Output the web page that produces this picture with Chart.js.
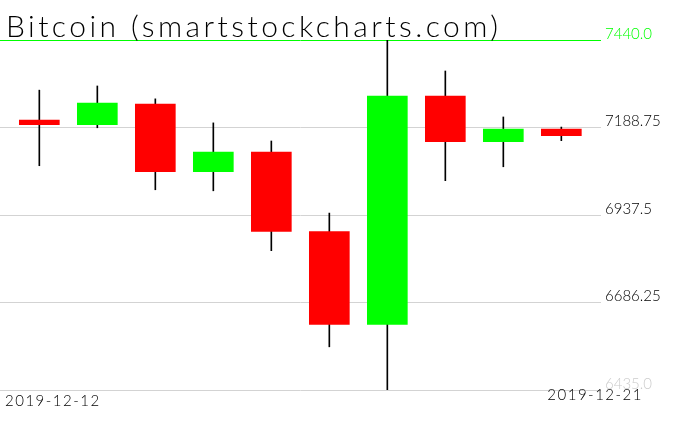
<!DOCTYPE html>
<html>
<head>
<meta charset="utf-8">
<script src="https://cdn.jsdelivr.net/npm/chart.js@4.4.0/dist/chart.umd.min.js"></script>
<style>
  html, body { margin: 0; padding: 0; background: #fff; }
  #wrap { width: 676px; height: 431px; position: relative; }
</style>
</head>
<body>
<div id="wrap"><canvas id="chart"></canvas></div>
<script>
const title = "Bitcoin (smartstockcharts.com)";
const dates = ["2019-12-12", "2019-12-13", "2019-12-14", "2019-12-15", "2019-12-16",
  "2019-12-17", "2019-12-18", "2019-12-19", "2019-12-20", "2019-12-21"];
const opens = [7210, 7197, 7256, 7062, 7118, 6890, 6623, 7279, 7148, 7184];
const highs = [7296, 7308, 7271, 7202, 7150, 6943, 7440, 7351, 7219, 7190];
const lows = [7079, 7188, 7010, 7007, 6835, 6559, 6435, 7036, 7076, 7151];
const closes = [7197, 7259, 7062, 7118, 6890, 6623, 7279, 7148, 7184, 7165];
const yTicks = [6435, 6686.25, 6937.5, 7188.75, 7440];
const yTickLabels = ["6435.0", "6686.25", "6937.5", "7188.75", "7440.0"];

const UP = "#00ff00";
const DOWN = "#ff0000";

const bodies = dates.map((d, i) => ({ x: i, y: [opens[i], closes[i]] }));
const wicks = dates.map((d, i) => ({ x: i, y: [lows[i], highs[i]] }));

// title and the two corner dates
const textPlugin = {
  id: "texts",
  afterDraw(chart) {
    const ctx = chart.ctx;
    ctx.save();
    ctx.fillStyle = "#000";
    ctx.textBaseline = "alphabetic";
    ctx.font = "300 30px Lato";
    ctx.letterSpacing = "0px";
    const w0 = ctx.measureText(title).width;
    ctx.letterSpacing = ((492 - w0) / (title.length - 1)) + "px";
    ctx.textAlign = "left";
    ctx.fillText(title, 6, 37);

    ctx.font = "300 15px Lato";
    ctx.letterSpacing = "1.5px";
    ctx.textAlign = "left";
    ctx.fillText(dates[0], 5, 406);
    ctx.textAlign = "right";
    ctx.fillText(dates[dates.length - 1], 643, 400);
    ctx.restore();
  }
};

new Chart(document.getElementById("chart"), {
  type: "bar",
  data: {
    datasets: [
      {
        label: "body",
        data: bodies,
        backgroundColor: bodies.map(b => (b.y[1] >= b.y[0] ? UP : DOWN)),
        borderWidth: 0,
        barThickness: 40,
        grouped: false,
        order: 0
      },
      {
        label: "wick",
        data: wicks,
        backgroundColor: "#000",
        borderWidth: 0,
        barThickness: 1,
        grouped: false,
        order: 1
      }
    ]
  },
  options: {
    responsive: true,
    maintainAspectRatio: false,
    animation: false,
    layout: { padding: { top: 40, bottom: 41, left: 0, right: 0 } },
    plugins: {
      legend: { display: false },
      tooltip: { enabled: false },
      title: { display: false }
    },
    scales: {
      x: {
        type: "linear",
        display: false,
        offset: false,
        min: -0.678,
        max: 9.684
      },
      y: {
        position: "right",
        min: 6435,
        max: 7440,
        z: 1,
        afterBuildTicks: axis => {
          axis.ticks = yTicks.map(v => ({ value: v }));
        },
        afterFit: axis => {
          axis.width = 75;
        },
        border: { display: false },
        grid: {
          drawTicks: false,
          lineWidth: 1,
          color: c => (c.tick && c.tick.value === 7440 ? UP : "#d3d3d3")
        },
        ticks: {
          padding: 4,
          labelOffset: -6,
          font: { family: "Lato", size: 15, weight: "300" },
          color: c => (c.tick.value === 7440 ? UP : c.tick.value === 6435 ? "#cccccc" : "#000"),
          callback: (v, i) => yTickLabels[i]
        }
      }
    }
  },
  plugins: [textPlugin]
});
</script>
</body>
</html>
